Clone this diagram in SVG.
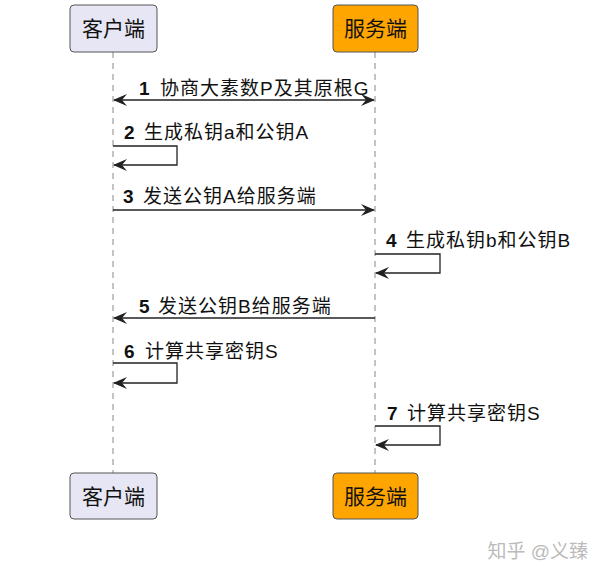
<svg xmlns="http://www.w3.org/2000/svg" width="600" height="576" viewBox="0 0 600 576">
<defs>
<marker id="ah" viewBox="0 0 14 12" refX="13" refY="6" markerWidth="14" markerHeight="12" markerUnits="userSpaceOnUse" orient="auto-start-reverse">
<path d="M0,0 L14,6 L0,12 L5,6 Z" fill="#222"/>
</marker>
<style>
.t{font-family:"Liberation Sans","Noto Sans CJK SC",sans-serif;fill:#111}
.lbl{font-size:19px;letter-spacing:1px}
.num{font-size:19px;font-weight:bold}
.box{font-size:21px}
.life{stroke:#888;stroke-width:1;stroke-dasharray:6,5;fill:none}
.msg{stroke:#222;stroke-width:1.3;fill:none}
</style>
</defs>
<rect width="600" height="576" fill="#fff"/>
<g id="lifelines">
<line class="life" x1="113" y1="52" x2="113" y2="473"/>
<line class="life" x1="375" y1="52" x2="375" y2="473"/>
</g>
<g id="client-top"><rect x="70" y="5" width="87" height="47" rx="4" fill="#e6e6f5" stroke="#555"/><text class="t box" x="113.5" y="36" text-anchor="middle">客户端</text></g>
<g id="server-top"><rect x="333" y="5" width="85" height="47" rx="4" fill="#ffa500" stroke="#555"/><text class="t box" x="375.5" y="36" text-anchor="middle">服务端</text></g>
<g id="client-bottom"><rect x="70" y="473" width="87" height="46" rx="4" fill="#e6e6f5" stroke="#555"/><text class="t box" x="113.5" y="504" text-anchor="middle">客户端</text></g>
<g id="server-bottom"><rect x="333" y="473" width="85" height="46" rx="4" fill="#ffa500" stroke="#555"/><text class="t box" x="375.5" y="504" text-anchor="middle">服务端</text></g>
<g id="connectors">
<line class="msg" x1="114" y1="100" x2="374" y2="100" marker-start="url(#ah)" marker-end="url(#ah)"/>
<polyline class="msg" points="113,146 177,146 177,165 114,165" marker-end="url(#ah)"/>
<line class="msg" x1="113" y1="210" x2="374" y2="210" marker-end="url(#ah)"/>
<polyline class="msg" points="375,254 440,254 440,273 376,273" marker-end="url(#ah)"/>
<line class="msg" x1="375" y1="318" x2="114" y2="318" marker-end="url(#ah)"/>
<polyline class="msg" points="113,363 177,363 177,383 114,383" marker-end="url(#ah)"/>
<polyline class="msg" points="375,426 440,426 440,445 376,445" marker-end="url(#ah)"/>
</g>
<g id="labels">
<text class="t num" x="139" y="95">1</text><text class="t lbl" x="160" y="95">协商大素数P及其原根G</text>
<text class="t num" x="124" y="139">2</text><text class="t lbl" x="144" y="139">生成私钥a和公钥A</text>
<text class="t num" x="123" y="203">3</text><text class="t lbl" x="143" y="203">发送公钥A给服务端</text>
<text class="t num" x="386" y="247">4</text><text class="t lbl" x="406" y="247">生成私钥b和公钥B</text>
<text class="t num" x="139" y="313">5</text><text class="t lbl" x="158" y="313">发送公钥B给服务端</text>
<text class="t num" x="124" y="358">6</text><text class="t lbl" x="145" y="358">计算共享密钥S</text>
<text class="t num" x="387" y="420">7</text><text class="t lbl" x="407" y="420">计算共享密钥S</text>
</g>
<text class="t" x="588" y="558" text-anchor="end" font-size="19" style="fill:#bbb">知乎 @义臻</text>
</svg>
